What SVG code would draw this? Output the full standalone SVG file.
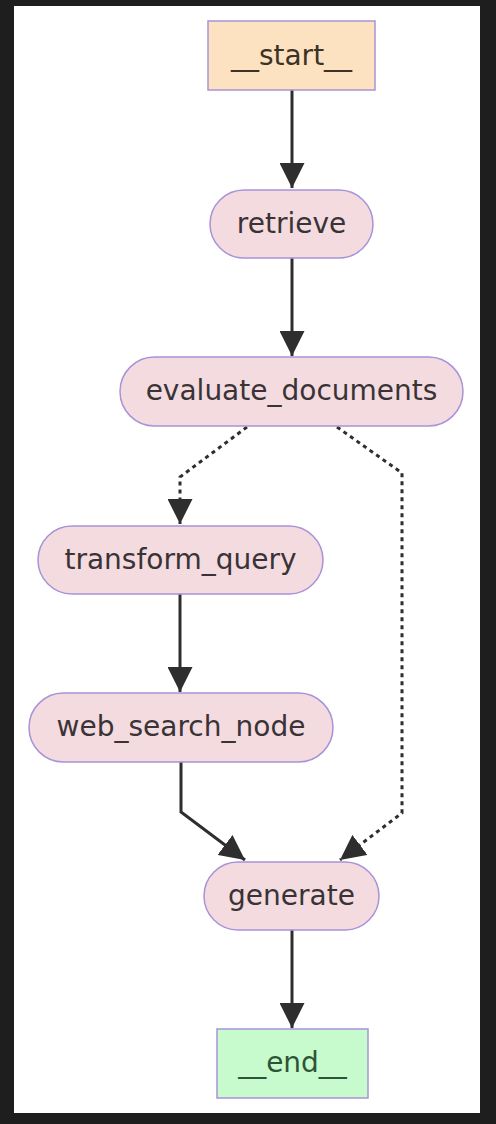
<svg xmlns="http://www.w3.org/2000/svg" width="496" height="1124" viewBox="0 0 496 1124">
<style>
.bg{fill:#1e1e1e}
.paper{fill:#ffffff}
.node{fill:#f3dbe0;stroke:#a892d8;stroke-width:1.5}
.start{fill:#fde2c2;stroke:#a892d8;stroke-width:1.5}
.end{fill:#c7fbcd;stroke:#a892d8;stroke-width:1.5}
.lbl{font-family:"DejaVu Sans",sans-serif;font-size:28px;fill:#3a3336;text-anchor:middle;dominant-baseline:central}
.lbl-start{fill:#3d3226}
.lbl-end{fill:#2e5436}
.edge{fill:none;stroke:#2e2e2e;stroke-width:3}
.dotted{stroke-dasharray:4 4}
</style>
<defs>
<marker id="arrow" viewBox="0 0 10 10" refX="10" refY="5" markerUnits="userSpaceOnUse" markerWidth="25" markerHeight="25" orient="auto">
<path d="M0,0 L10,5 L0,10 z" fill="#2e2e2e"/>
</marker>
</defs>
<rect class="bg" x="0" y="0" width="496" height="1124"/>
<rect class="paper" x="14" y="6" width="466" height="1107"/>
<g id="connectors">
<path class="edge" d="M292,90 L292,188" marker-end="url(#arrow)"/>
<path class="edge" d="M292,258 L292,356" marker-end="url(#arrow)"/>
<path class="edge dotted" d="M247,427 L180,477 L180,524" marker-end="url(#arrow)"/>
<path class="edge dotted" d="M337,427 L402,473 L402,813 L340,860" marker-end="url(#arrow)"/>
<path class="edge" d="M180,594 L180,692" marker-end="url(#arrow)"/>
<path class="edge" d="M181,762 L181,812 L245,860" marker-end="url(#arrow)"/>
<path class="edge" d="M292,930 L292,1028" marker-end="url(#arrow)"/>
</g>
<g id="node-start">
<rect class="start" x="208" y="21" width="167" height="69"/>
<text class="lbl lbl-start" x="291.5" y="55">__start__</text>
</g>
<g id="node-retrieve">
<rect class="node" x="210" y="190" width="163" height="68" rx="34" ry="34"/>
<text class="lbl" x="291.5" y="223">retrieve</text>
</g>
<g id="node-evaluate_documents">
<rect class="node" x="120" y="357" width="343" height="69" rx="34.5" ry="34.5"/>
<text class="lbl" x="291.5" y="390">evaluate_documents</text>
</g>
<g id="node-transform_query">
<rect class="node" x="38" y="526" width="285" height="68" rx="34" ry="34"/>
<text class="lbl" x="180.5" y="559">transform_query</text>
</g>
<g id="node-web_search_node">
<rect class="node" x="29" y="693" width="304" height="69" rx="34.5" ry="34.5"/>
<text class="lbl" x="181" y="726">web_search_node</text>
</g>
<g id="node-generate">
<rect class="node" x="204" y="862" width="175" height="68" rx="34" ry="34"/>
<text class="lbl" x="291.5" y="895">generate</text>
</g>
<g id="node-end">
<rect class="end" x="217" y="1029" width="151" height="69"/>
<text class="lbl lbl-end" x="292.5" y="1062">__end__</text>
</g>
</svg>
